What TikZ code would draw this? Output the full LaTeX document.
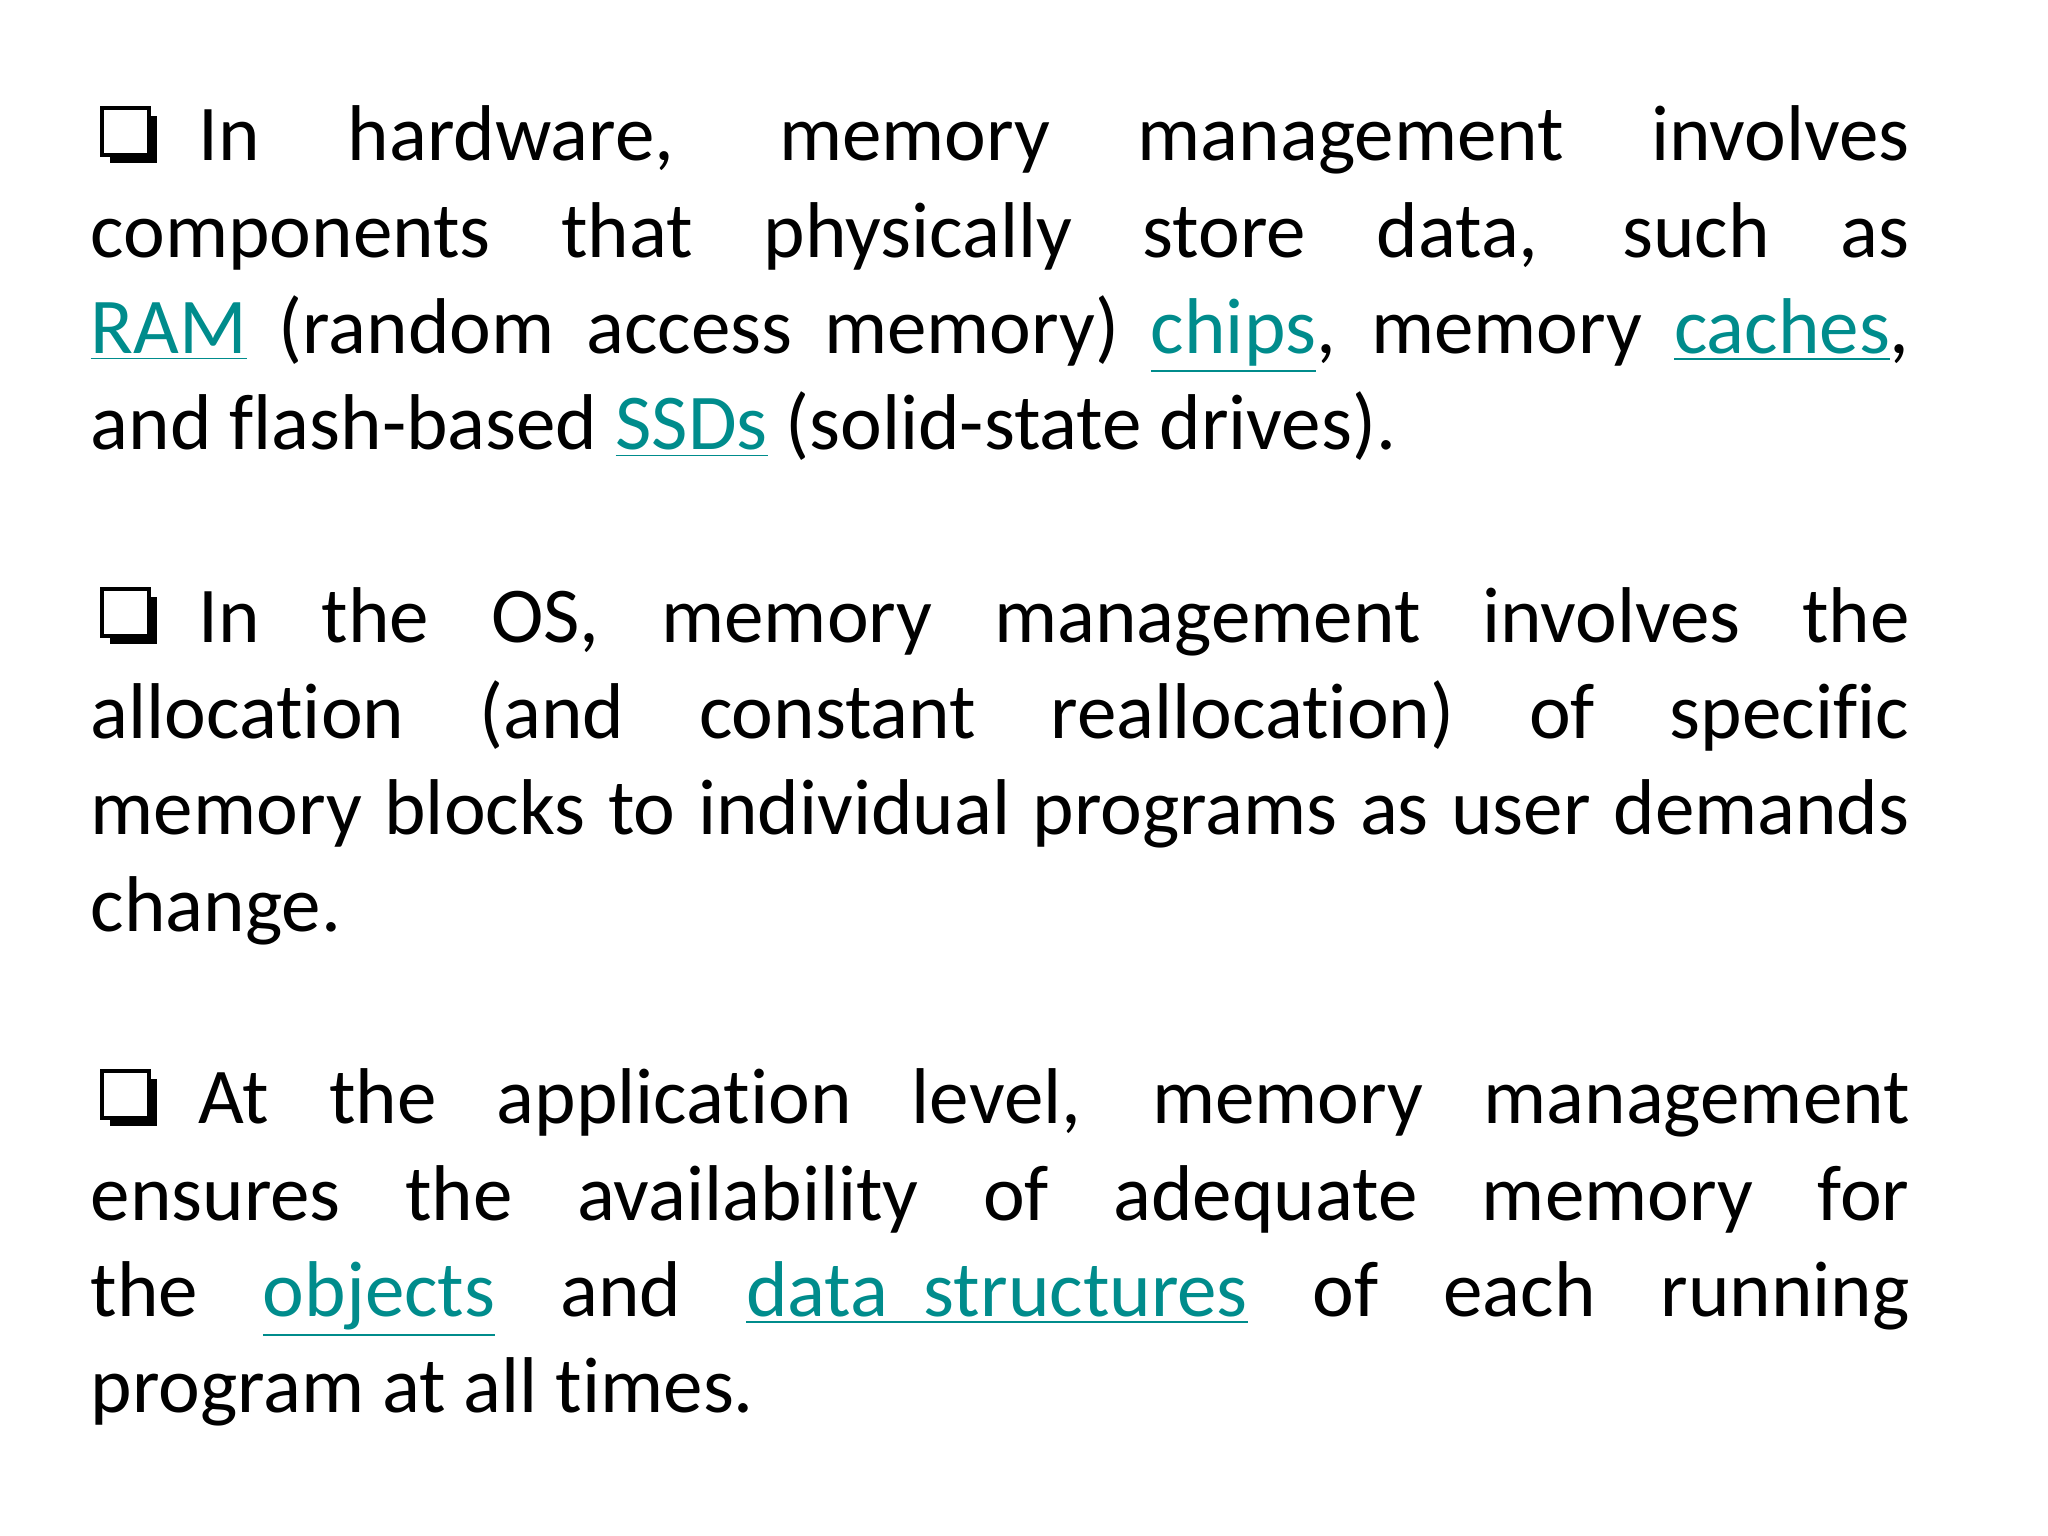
\documentclass[tikz,border=0pt]{standalone}
\usepackage{fontspec}
\setmainfont[RawFeature=-liga]{Carlito}
\usepackage{xcolor}
\definecolor{link}{RGB}{0,140,140}
\newcommand{\lk}[1]{{\color{link}\underline{#1}}}
\newcommand{\qbx}{\hspace*{0.09cm}\tikz[baseline=0pt]{\fill[black] (0.08,-0.02) rectangle (0.55,0.45);\draw[line width=1.2pt,fill=white] (0,0.06) rectangle (0.47,0.53);}\hspace*{0.42cm}}
\begin{document}
\begin{tikzpicture}
\useasboundingbox (0,0) rectangle (20.48,-15.36);
\node[anchor=north west,inner sep=0pt,text width=18.19cm,align=justify,font=\fontsize{22.5pt}{27.4pt}\selectfont] (t) at (0.9,-1.05) {%
\hyphenpenalty=10000 \exhyphenpenalty=10000
\qbx In hardware, memory management involves\linebreak components that physically store data, such as\linebreak \lk{RAM} (random access memory) \lk{chips}, memory \lk{caches},\linebreak and flash-based \lk{SSDs} (solid-state drives).\par
\vskip 27.4pt
\qbx In the OS, memory management involves the\linebreak allocation (and constant reallocation) of specific\linebreak memory blocks to individual programs as user demands\linebreak change.\par
\vskip 27.4pt
\qbx At the application level, memory management\linebreak ensures the availability of adequate memory for\linebreak the \lk{objects} and \lk{data\ \ structures} of each running\linebreak program at all times.\par};
\end{tikzpicture}
\end{document}
